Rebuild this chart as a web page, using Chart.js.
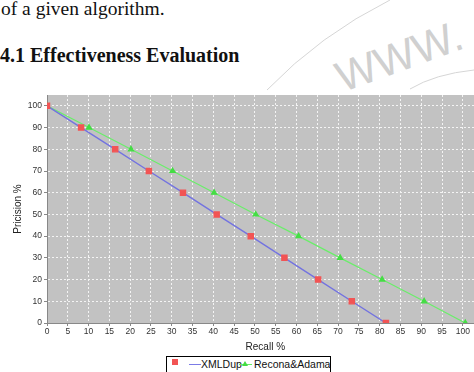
<!DOCTYPE html>
<html>
<head>
<meta charset="utf-8">
<script src="https://cdn.jsdelivr.net/npm/chart.js@4"></script>
<style>
    html, body { margin: 0; padding: 0; background: #fff; overflow: hidden; width: 474px; height: 372px; }
    .line1 { position: absolute; left: 1px; top: -2px; font: 19.5px "Liberation Serif", serif; color: #111; white-space: nowrap; }
    .line2 { position: absolute; left: 0; top: 44px; font: bold 20px "Liberation Serif", serif; color: #111; white-space: nowrap; }
    .mark { position: absolute; left: 346px; top: 53px; line-height: 42px; font: 43px "Liberation Sans", sans-serif; color: #d0d0d0; transform: rotate(-20deg); transform-origin: left bottom; white-space: nowrap; }
    #wrap { position: absolute; left: 0; top: 84px; width: 489px; height: 288px; }
    .legend { position: absolute; left: 166px; top: 356px; width: 163px; height: 30px; border: 1px solid #000; background: #fff; font: 10.5px "Liberation Sans", Arial, sans-serif; color: #111; }
    .legend span { position: absolute; }
</style>
</head>
<body>
<div class="line1">of a given algorithm.</div>
<div class="line2">4.1 Effectiveness Evaluation</div>
<svg style="position:absolute;left:0;top:0" width="474" height="100">
    <path d="M267 90 Q320 35 390 0" stroke="#d6d6d6" stroke-width="1" fill="none"/>
    <path d="M410 89 Q435 74 474 70" stroke="#d6d6d6" stroke-width="1" fill="none"/>
</svg>
<div class="mark">WWW.</div>
<div id="wrap"><canvas id="prChart"></canvas></div>
<div class="legend">
    <span style="left:5px;top:2px;width:6px;height:6px;background:#f25454"></span>
    <span style="left:22px;top:7px;width:12px;height:1px;background:#7b7be6"></span>
    <span style="left:34px;top:1px">XMLDup</span>
    <span style="left:72px;top:7px;width:13px;height:1px;background:#66ee66"></span>
    <span style="left:75px;top:4px;width:0;height:0;border-left:3px solid transparent;border-right:3px solid transparent;border-bottom:5px solid #44dd44"></span>
    <span style="left:87px;top:1px">Recona&amp;Adama</span>
</div>
<script>
const recallXmlDup = [0, 8.2, 16.4, 24.5, 32.7, 40.8, 49.0, 57.1, 65.2, 73.3, 81.5];
const precisionXmlDup = [100, 90, 80, 70, 60, 50, 40, 30, 20, 10, 0];
const recallRecona = [0, 10.1, 20.2, 30.2, 40.2, 50.2, 60.5, 70.5, 80.6, 90.7, 100.6];
const precisionRecona = [100, 90, 80, 70, 60, 50, 40, 30, 20, 10, 0];

const toPoints = (xs, ys) => xs.map((x, i) => ({x: x, y: ys[i]}));

// grey plot background like the original
const plotBackground = {
    id: 'plotBackground',
    beforeDraw(chart) {
        const {ctx, chartArea} = chart;
        ctx.save();
        ctx.fillStyle = '#c2c2c2';
        ctx.fillRect(chartArea.left, chartArea.top, chartArea.right - chartArea.left, chartArea.bottom - chartArea.top);
        ctx.restore();
    },
};

const tickFont = {family: '"Liberation Sans", Arial, sans-serif', size: 8.5};
const titleFont = {family: '"Liberation Sans", Arial, sans-serif', size: 10};
// the axes run a bit past 100 but have no tick there
const dropTopTick = (scale) => { scale.ticks = scale.ticks.filter(t => t.value <= 100); };

new Chart(document.getElementById('prChart').getContext('2d'), {
    type: 'scatter',
    data: {
        datasets: [
            {
                label: 'Recona&Adama',
                data: toPoints(recallRecona, precisionRecona),
                showLine: true,
                borderColor: '#6aee6a',
                borderWidth: 1.2,
                pointStyle: 'triangle',
                pointRadius: 3,
                pointBackgroundColor: '#44dd44',
                pointBorderColor: '#44dd44',
                order: 2,
            },
            {
                label: 'XMLDup',
                data: toPoints(recallXmlDup, precisionXmlDup),
                showLine: true,
                borderColor: '#7373e0',
                borderWidth: 1.4,
                pointStyle: 'rect',
                pointRadius: 3.6,
                pointBackgroundColor: '#f25454',
                pointBorderColor: '#f25454',
                order: 1,
            },
        ],
    },
    options: {
        responsive: true,
        maintainAspectRatio: false,
        animation: false,
        layout: {padding: {top: 11, left: 0, right: 0, bottom: 19}},
        plugins: {
            legend: {display: false},
            tooltip: {enabled: false},
        },
        scales: {
            x: {
                type: 'linear',
                min: 0,
                max: 105,
                afterBuildTicks: dropTopTick,
                afterFit(scale) { scale.height = 30; },
                ticks: {stepSize: 5, autoSkip: false, maxRotation: 0, padding: 1, color: '#333', font: tickFont},
                grid: {color: '#f4f4f4', tickColor: '#888', tickLength: 3},
                border: {display: true, color: '#888', dash: [2, 2]},
                title: {display: true, text: 'Recall %', color: '#222', font: titleFont, padding: {top: 2, bottom: 0}},
            },
            y: {
                min: 0,
                max: 105,
                afterBuildTicks: dropTopTick,
                afterFit(scale) { scale.width = 47; },
                ticks: {stepSize: 10, autoSkip: false, padding: 2, color: '#333', font: tickFont},
                grid: {color: '#f4f4f4', tickColor: '#888', tickLength: 3},
                border: {display: true, color: '#888', dash: [2, 2]},
                title: {display: true, text: 'Pricision %', color: '#222', font: titleFont, padding: {top: 12, bottom: 0}},
            },
        },
    },
    plugins: [plotBackground],
});
</script>
</body>
</html>
